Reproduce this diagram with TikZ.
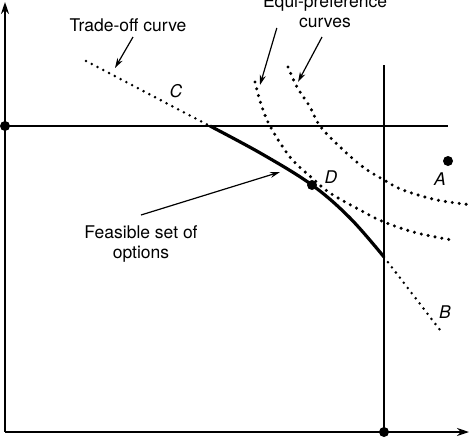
\documentclass[tikz,border=0pt]{standalone}
\usepackage{fontspec}
\setmainfont{TeX Gyre Heros}
\usetikzlibrary{arrows.meta}
\tikzset{>=stealth}
\tikzset{
  axis/.style={line width=2pt,-{Stealth[length=12pt,width=8pt]}},
  pointer/.style={line width=1.2pt,-{Stealth[length=10pt,width=6pt]}},
  dotline/.style={line width=2.8pt,line cap=round,dash pattern=on 0pt off 6.5pt},
  bigdots/.style={line width=3.4pt,line cap=round,dash pattern=on 0pt off 7pt},
  spot/.style={circle,fill=black,inner sep=0pt,minimum size=10pt},
  lbl/.style={font=\fontsize{17.5}{20}\selectfont,inner sep=0pt,align=center},
  letter/.style={font=\fontsize{17.5}{20}\selectfont\itshape,inner sep=0pt}
}

\begin{document}
\begin{tikzpicture}[x=1pt,y=-1pt]
\useasboundingbox (0,0) rectangle (474,437);
\coordinate (O) at (5,432);
\coordinate (ytop) at (5,2);
\coordinate (xend) at (469,432);
\draw[axis] (O) -- (ytop);
\draw[axis] (O) -- (xend);
\coordinate (hL) at (5,126);
\coordinate (hR) at (448,126);
\coordinate (vT) at (384,65);
\coordinate (vB) at (384,432);
\draw[line width=1.8pt] (hL) -- (hR);
\draw[line width=1.8pt] (vT) -- (vB);
\coordinate (t0) at (86,61);
\coordinate (t1) at (210,126);
\coordinate (D) at (312,185);
\coordinate (t2) at (384,257);
\coordinate (t3) at (440,330);
\draw[dotline] (t0) -- (t1);
\draw[line width=3.2pt] plot[smooth,tension=0.6] coordinates {(t1) (262,154) (D) (350,218) (t2)};
\draw[dotline] (t2) -- (t3);
\draw[bigdots] plot[smooth,tension=0.6] coordinates {(255,82) (261,104) (270,126) (290,157) (312,178) (330,193) (360,210) (384,222) (417,233) (452,240)};
\draw[bigdots] plot[smooth,tension=0.6] coordinates {(288,67) (297,87) (310,107) (320,126) (340,147) (363,167) (384,180) (403,190) (437,200) (473,205)};
\node[spot] (dotH) at (hL) {};
\node[spot] (dotV) at (vB) {};
\node[spot] (dotD) at (D) {};
\node[spot] (dotA) at (448,161) {};
\node[letter] (labC) at (176,91) {C};
\node[letter] (labD) at (331,177) {D};
\node[letter] (labA) at (440,179) {A};
\node[letter] (labB) at (445,312) {B};
\node[lbl,anchor=base] (tradeoff) at (128,31) {Trade-off curve};
\node[lbl,anchor=south] (equi) at (325,28) {Equi-preference\\curves};
\node[lbl,anchor=north] (feas) at (141,225) {Feasible set of\\options};
\coordinate (tA) at (115,68);
\coordinate (eA1) at (260,85);
\coordinate (eA2) at (298,82);
\coordinate (fA) at (280,172);
\draw[pointer] ([xshift=5pt,yshift=-6pt]tradeoff.base) -- (tA);
\draw[pointer] ([xshift=14pt]equi.south west) -- (eA1);
\draw[pointer] ([xshift=-3pt,yshift=-9pt]equi.south) -- (eA2);
\draw[pointer] ([yshift=10pt]feas.north) -- (fA);
\end{tikzpicture}
\end{document}
